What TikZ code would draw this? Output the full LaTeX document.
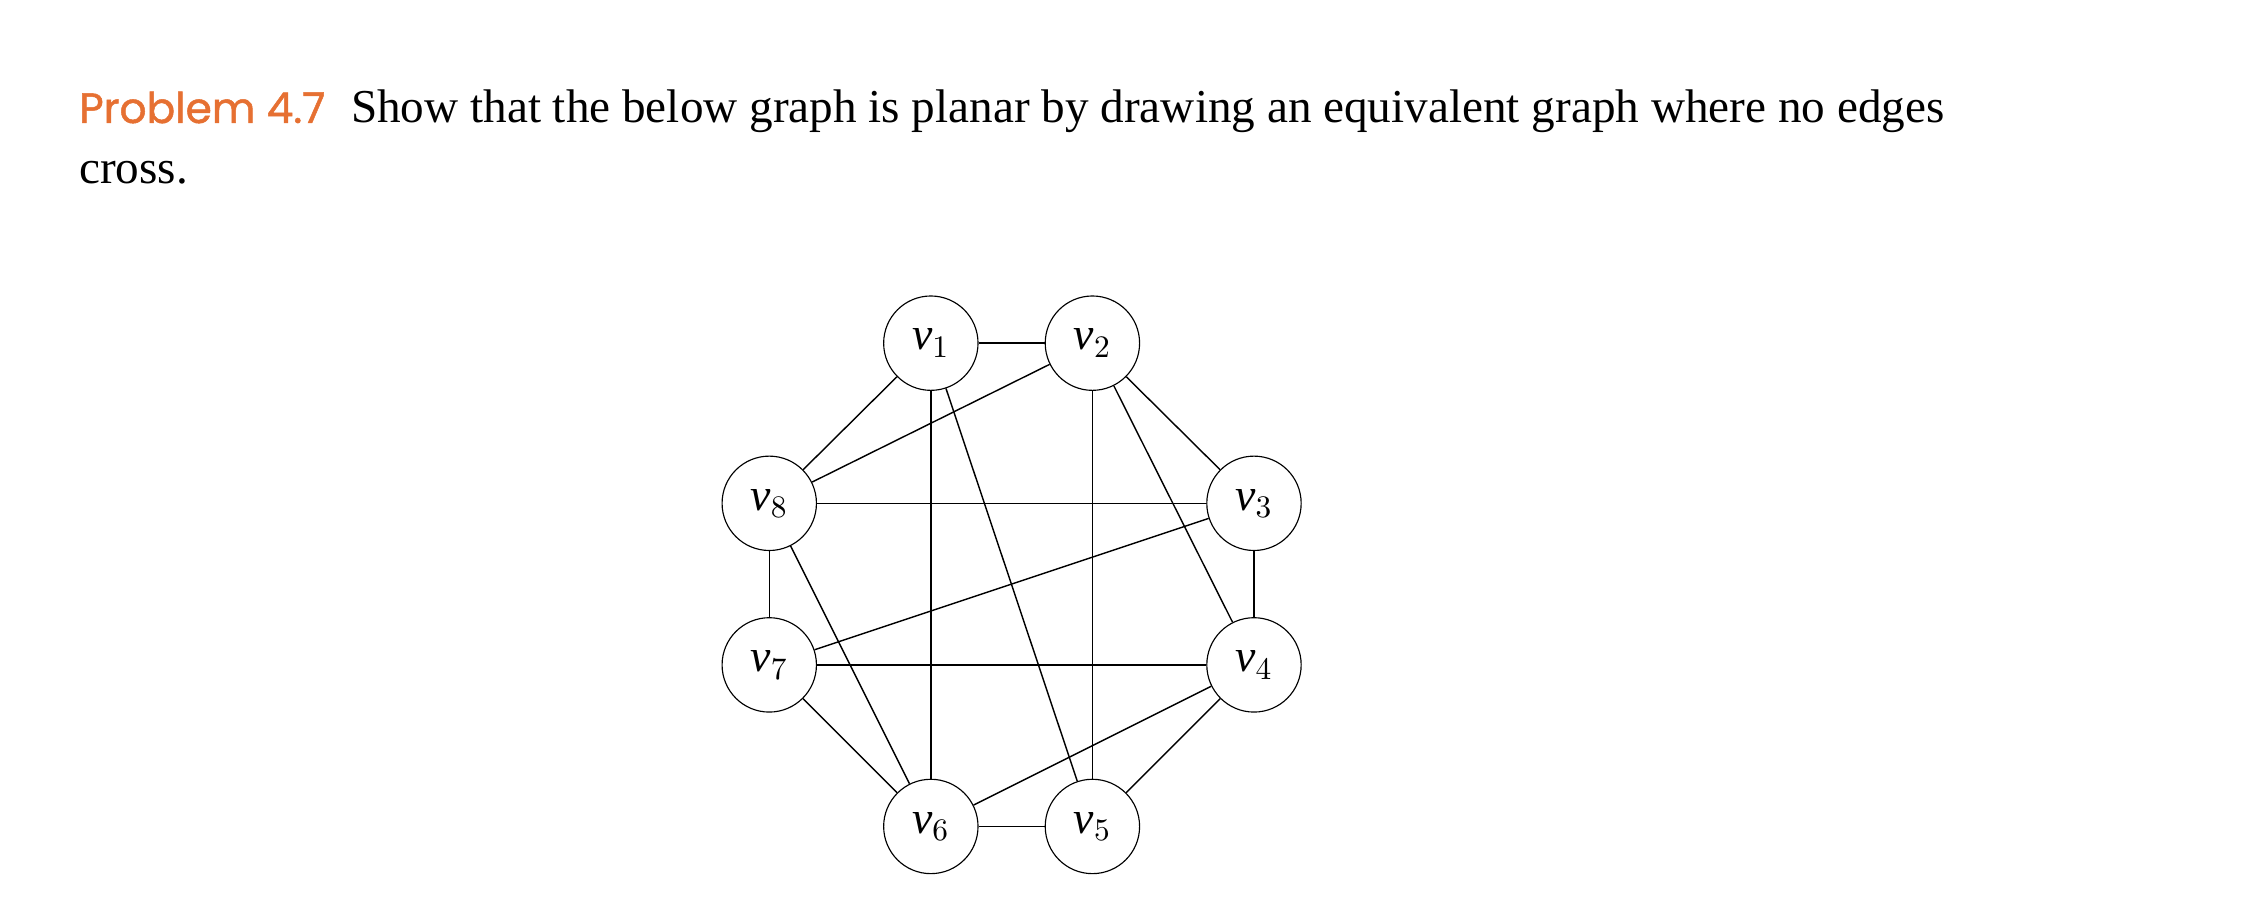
\documentclass[tikz,border=0pt]{standalone}
\usepackage{fontspec}
\setmainfont{Liberation Serif}
\newfontfamily\probfont[FakeBold=1.2]{Poppins}
\definecolor{proborange}{RGB}{230,112,50}
\begin{document}
\begin{tikzpicture}[x=0.5pt,y=-0.5pt,
  vtx/.style={draw,circle,minimum size=33pt,inner sep=0pt,font=\fontsize{16}{18}\selectfont\itshape},
  edge/.style={draw,line width=0.5pt}]
\useasboundingbox (0,0) rectangle (1568,637);
\node[anchor=base west,inner sep=0] (title) at (55,86) {{\fontsize{14.8}{18}\selectfont\probfont\color{proborange}Problem 4.7}\hspace{9pt}\fontsize{16.5}{20}\selectfont Show that the below graph is planar by drawing an equivalent graph where no edges};
\node[anchor=base west,inner sep=0] (title2) at (55,128) {\fontsize{16.5}{20}\selectfont cross.};
\node[vtx] (v1) at (651,240) {v$_1$};
\node[vtx] (v2) at (764,240) {v$_2$};
\node[vtx] (v3) at (877,352) {v$_3$};
\node[vtx] (v4) at (877,465) {v$_4$};
\node[vtx] (v5) at (764,578) {v$_5$};
\node[vtx] (v6) at (651,578) {v$_6$};
\node[vtx] (v7) at (538,465) {v$_7$};
\node[vtx] (v8) at (538,352) {v$_8$};
\foreach \a/\b in {v1/v2,v1/v8,v1/v6,v1/v5,v2/v8,v2/v3,v2/v5,v2/v4,v8/v3,v8/v7,v8/v6,v3/v4,v3/v7,v7/v4,v7/v6,v6/v5,v6/v4,v4/v5}
  \draw[edge] (\a) -- (\b);
\end{tikzpicture}
\end{document}
